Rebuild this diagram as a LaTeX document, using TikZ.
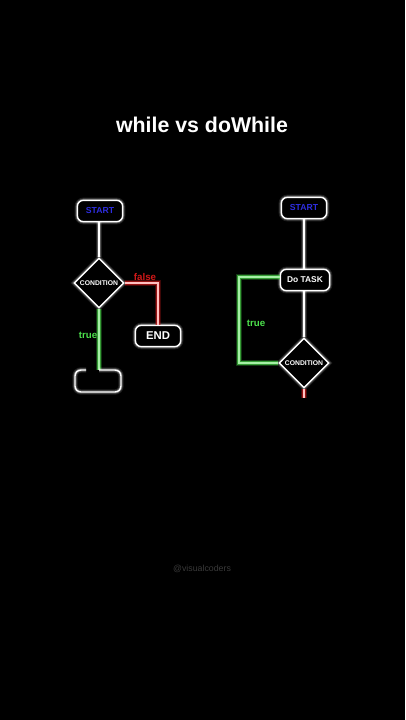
\documentclass[tikz,border=0pt]{standalone}
\usepackage{fontspec}
\setmainfont{Liberation Sans}
\usetikzlibrary{shapes.geometric}
\definecolor{startblue}{HTML}{2E2EE0}
\definecolor{falsered}{HTML}{D01818}
\definecolor{truegreen}{HTML}{4CE04C}
\definecolor{wm}{HTML}{3A3A3A}
\tikzset{
  wline/.style={draw=white, line width=1.1pt,
    preaction={draw=white, opacity=0.12, line width=4pt},
    preaction={draw=white, opacity=0.25, line width=2.4pt}},
  rline/.style={draw=red!25!white, line width=1.1pt,
    preaction={draw=falsered, opacity=0.3, line width=5pt},
    preaction={draw=falsered, opacity=0.6, line width=2.6pt}},
  gline/.style={draw=truegreen!50!white, line width=1.1pt,
    preaction={draw=truegreen, opacity=0.25, line width=5pt},
    preaction={draw=truegreen, opacity=0.6, line width=2.6pt}},
  boxnode/.style={rectangle, rounded corners=4.5pt, wline, fill=black,
    minimum width=34pt, minimum height=16pt, inner sep=0pt,
    text=white, font=\bfseries\fontsize{6.5}{7}\selectfont},
  decision/.style={diamond, aspect=1, wline, fill=black, inner sep=0pt,
    minimum width=37.5pt, minimum height=37.5pt,
    text=white, font=\bfseries\fontsize{5.1}{6}\selectfont},
  lbl/.style={font=\bfseries\fontsize{7.3}{8}\selectfont, inner sep=0pt}
}
\begin{document}
\begin{tikzpicture}[x=0.75pt, y=-0.75pt]
\fill[black] (0,0) rectangle (405,720);
\useasboundingbox (0,0) rectangle (405,720);

\node[text=white, font=\bfseries\fontsize{16}{18}\selectfont] (title) at (202,125) {while vs doWhile};

% ---- while ----
\node[decision] (cA) at (99,283) {CONDITION};
\node[boxnode, text=startblue] (sA) at (100,211) {START};
\node[boxnode, minimum width=34pt, font=\bfseries\fontsize{8.5}{9}\selectfont] (eA) at (158,336) {END};
\coordinate (fA) at (158,283);
\coordinate (tA) at (99,370);
\draw[wline] (sA.south -| cA.north) -- (cA.north);
\draw[rline] (cA.east) -- (fA) -- (eA.north);
\node[lbl, text=falsered] (fl) at (145,277) {false};
\draw[gline] (cA.south) -- (tA);
\node[lbl, text=truegreen] (tl) at (88,335) {true};
\draw[wline, rounded corners=4.5pt] (tA) -- (121,370) -- (121,392) -- (75,392) -- (75,370) -- (86,370);

% ---- doWhile ----
\node[boxnode, text=startblue] (sB) at (304,208) {START};
\node[boxnode, minimum width=37pt, font=\bfseries\fontsize{6.3}{7}\selectfont] (dB) at (305,280) {Do TASK};
\node[decision] (cB) at (304,363) {CONDITION};
\draw[wline] (sB.south -| cB.north) -- (dB.north -| cB.north);
\draw[wline] (dB.south -| cB.north) -- (cB.north);
\coordinate (eB) at (304,398);
\draw[rline] (cB.south) -- (eB);
\coordinate (lB1) at (239,363);
\coordinate (lB2) at (239,277);
\draw[gline] (cB.west) -- (lB1) -- (lB2) -- (dB.west |- lB2);
\node[lbl, text=truegreen] (tB) at (256,323) {true};

\node[text=wm, font=\fontsize{6.6}{8}\selectfont] (wmk) at (202,569) {@visualcoders};
\end{tikzpicture}
\end{document}
